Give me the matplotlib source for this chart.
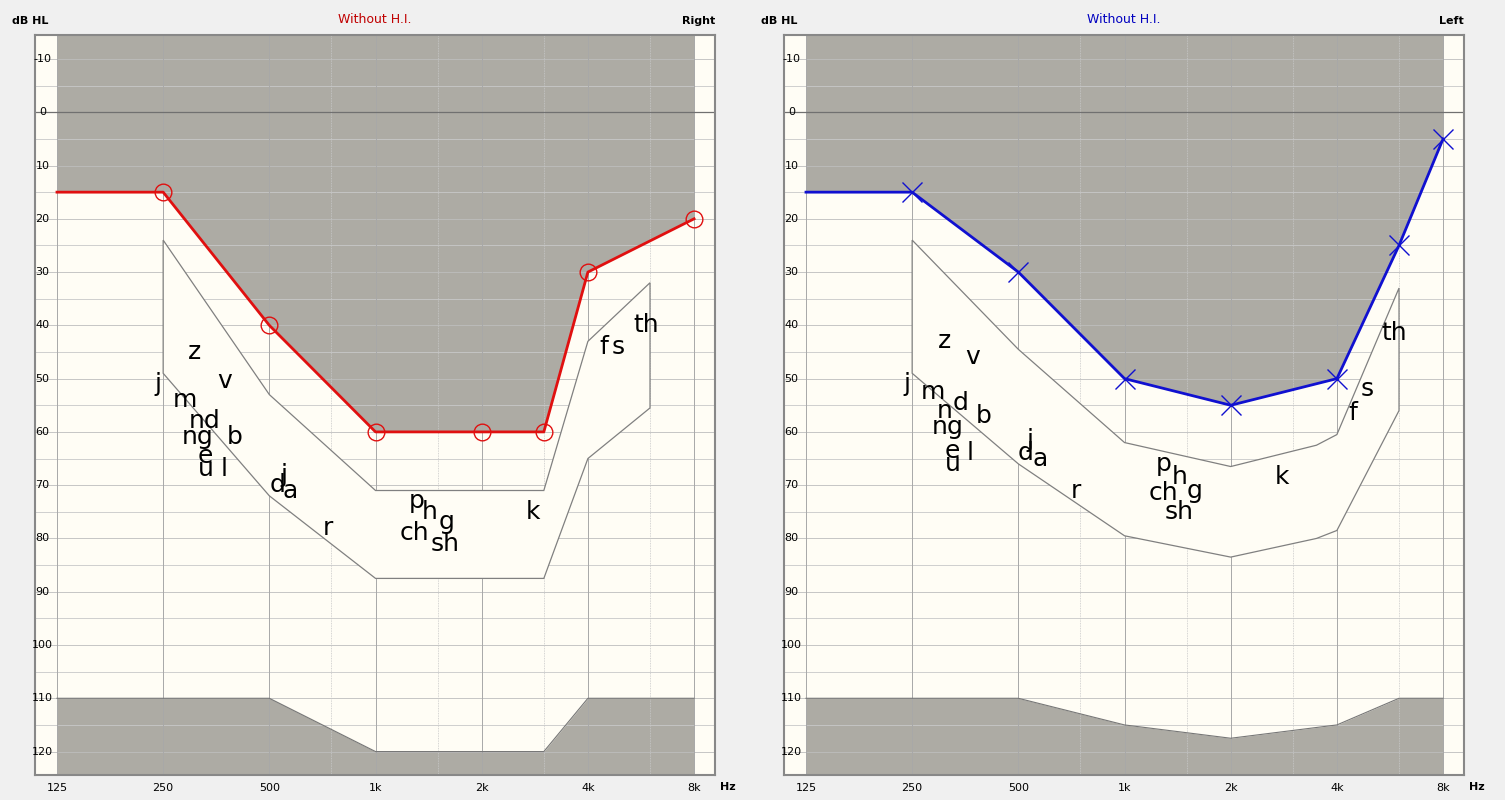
import numpy as np
import matplotlib.pyplot as plt
from matplotlib.patches import Polygon

freqs = [125, 250, 500, 1000, 2000, 3000, 4000, 8000]
right_thr = [15, 15, 40, 60, 60, 60, 30, 20]
left_f = [125, 250, 500, 1000, 2000, 4000, 6000, 8000]
left_thr = [15, 15, 30, 50, 55, 50, 25, 5]

r_bottom_f = [125, 500, 1000, 3000, 4000, 8000]
r_bottom = [110, 110, 120, 120, 110, 110]
l_bottom_f = [125, 500, 1000, 2000, 4000, 6000, 8000]
l_bottom = [110, 110, 115, 117.5, 115, 110, 110]

r_ban_up_f = [250, 500, 1000, 3000, 4000, 6000]
r_ban_up = [24, 53, 71, 71, 43, 32]
r_ban_lo_f = [6000, 4000, 3000, 1000, 500, 250]
r_ban_lo = [55.5, 65, 87.5, 87.5, 72, 49]
l_ban_up_f = [250, 500, 1000, 2000, 3500, 4000, 6000]
l_ban_up = [24, 44.5, 62, 66.5, 62.5, 60.5, 33]
l_ban_lo_f = [6000, 4000, 3500, 2000, 1000, 500, 250]
l_ban_lo = [56, 78.5, 80, 83.5, 79.5, 66, 49]

r_letters = ["z", "v", "j", "m", "nd", "ng", "e", "u", "b", "l", "d", "j", "a", "r",
             "p", "h", "g", "ch", "sh", "k", "f", "s", "th"]
r_let_f = [307, 374, 242, 289, 328, 314, 330, 330, 399, 371, 528, 550, 574, 732,
           1310, 1424, 1590, 1290, 1580, 2790, 4430, 4880, 5850]
r_let_db = [45, 50.5, 51, 54, 58, 61, 64.5, 67, 61, 67, 70, 68, 71, 78,
            73, 75, 77, 79, 81, 75, 44, 44, 40]
l_letters = ["z", "v", "j", "m", "d", "n", "b", "g", "n", "e", "u", "l", "j", "d", "a", "r",
             "p", "h", "g", "ch", "sh", "k", "f", "s", "th"]
l_let_f = [308, 370, 242, 287, 344, 310, 398, 330, 300, 325, 325, 365, 540, 525, 575, 730,
           1290, 1430, 1580, 1290, 1430, 2790, 4430, 4880, 5820]
l_let_db = [43, 46, 51, 52.5, 54.5, 56, 57, 59, 59, 63.5, 66, 64, 61.5, 64, 65, 71,
            66, 68.5, 71, 71.5, 75, 68.5, 56.5, 52, 41.5]

yticks = list(range(-10, 130, 10))
xticks = [125, 250, 500, 1000, 2000, 4000, 8000]
xticklabels = ["125", "250", "500", "1k", "2k", "4k", "8k"]

GRAY = "#ADABA4"
CREAM = "#FFFDF5"
X0, X1 = np.log2(125) - 0.207, np.log2(8000) + 0.197
Y0, Y1 = -14.5, 124.4

fig = plt.figure(figsize=(15.05, 8), dpi=100, facecolor="#F0F0F0")

def panel(left, title, tcolor, side, thr_f, thr, mcolor, marker, bot_f, bot,
          bu_f, bu, bl_f, bl, letters, lf, ldb):
    ax = fig.add_axes([left / 1505, 25 / 800, 680 / 1505, 740 / 800])
    ax.set_facecolor(CREAM)
    ax.set_xlim(X0, X1)
    ax.set_ylim(Y1, Y0)
    lx = np.log2(thr_f)
    ax.fill_between(lx, Y0, thr, color=GRAY, zorder=1, lw=0)
    ax.fill_between(np.log2(bot_f), bot, Y1, color=GRAY, zorder=1, lw=0)
    ax.plot(np.log2(bot_f), bot, color="#777777", lw=0.8, zorder=2)
    for v in range(-10, 125, 5):
        ax.axhline(v, color="#C8C8C8" if v % 10 else "#BDBDBD", lw=0.6, zorder=1.5)
    ax.axhline(0, color="#707070", lw=0.9, zorder=2)
    for f in xticks:
        ax.axvline(np.log2(f), color="#A8A8A8", lw=0.7, zorder=1.5)
    for f in [750, 1500, 3000, 6000]:
        ax.axvline(np.log2(f), color="#C8C8C8", lw=0.6, ls=(0, (1, 1)), zorder=1.5)
    pts = list(zip(np.log2(bu_f), bu)) + list(zip(np.log2(bl_f), bl))
    ax.add_patch(Polygon(pts, closed=True, facecolor=CREAM, edgecolor="#808080",
                         lw=0.9, zorder=3))
    for t, f, d in zip(letters, lf, ldb):
        ax.text(np.log2(f), d, t, fontsize=18, ha="center", va="center", zorder=4)
    ax.plot(lx, thr, color=mcolor, lw=2, zorder=5)
    if marker == "o":
        ax.plot(lx[1:], thr[1:], "o", mfc="none", mec=mcolor, ms=12, mew=1, zorder=6)
    else:
        ax.plot(lx[1:], thr[1:], "x", color=mcolor, ms=14, mew=1, zorder=6)
    for v in yticks:
        ax.text(X0 + 0.07, v, str(v), fontsize=8, ha="center", va="center", zorder=7)
    ax.set_yticks([])
    ax.set_xticks(np.log2(xticks))
    ax.set_xticklabels(xticklabels, fontsize=8)
    ax.tick_params(axis="x", length=0, pad=6)
    for s in ax.spines.values():
        s.set_color("#888888")
        s.set_linewidth(1.5)
    ax.text(0.5, 1.012, title, transform=ax.transAxes, color=tcolor, fontsize=9,
            ha="center", va="bottom")
    ax.text(-23 / 680, 1.012, "dB HL", transform=ax.transAxes, fontsize=8,
            fontweight="bold", ha="left", va="bottom")
    ax.text(1.0, 1.012, side, transform=ax.transAxes, fontsize=8,
            fontweight="bold", ha="right", va="bottom")
    ax.text(1.03, -0.016, "Hz", transform=ax.transAxes, fontsize=8,
            fontweight="bold", ha="right", va="center")

panel(35, "Without H.I.", "#C00000", "Right", freqs, right_thr, "#E01010", "o",
      r_bottom_f, r_bottom, r_ban_up_f, r_ban_up, r_ban_lo_f, r_ban_lo,
      r_letters, r_let_f, r_let_db)
panel(784, "Without H.I.", "#0000C0", "Left", left_f, left_thr, "#1010D0", "x",
      l_bottom_f, l_bottom, l_ban_up_f, l_ban_up, l_ban_lo_f, l_ban_lo,
      l_letters, l_let_f, l_let_db)

fig.savefig("out.png", dpi=100, facecolor=fig.get_facecolor())
